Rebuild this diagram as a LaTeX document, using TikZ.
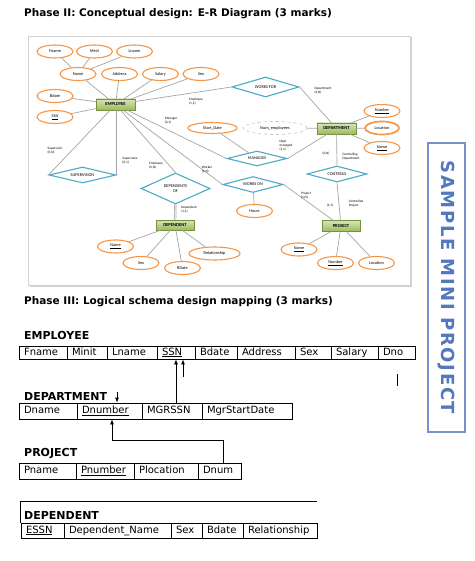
\documentclass[tikz,border=0pt]{standalone}
\usepackage{fontspec}
\setmainfont{DejaVu Sans}
\newfontfamily\erfont{Carlito}
\newfontfamily\sidefont[LetterSpace=9]{DejaVu Sans}
\usetikzlibrary{shapes.geometric,arrows.meta,shadows}

\definecolor{attrorange}{HTML}{F79646}
\definecolor{relteal}{HTML}{4BACC6}
\definecolor{entgreen}{HTML}{9BBB59}
\definecolor{entpale}{HTML}{D7E4BD}
\definecolor{entdark}{HTML}{76923C}
\definecolor{conngray}{HTML}{A5A5A5}
\definecolor{sideblue}{HTML}{5378BC}

\tikzset{
  attr/.style={ellipse, draw=attrorange, line width=1.1pt, fill=white, inner sep=0pt,
    minimum width=36, minimum height=13, font=\erfont\fontsize{4.3}{5}\selectfont},
  rel/.style={diamond, aspect=3, draw=relteal, line width=1.1pt, fill=white, inner sep=0pt,
    align=center, font=\erfont\fontsize{4.3}{5}\selectfont},
  ent/.style={rectangle, draw=entdark, line width=0.5pt, top color=entpale, bottom color=entgreen,
    inner sep=0pt, minimum width=39, minimum height=11, font=\erfont\bfseries\fontsize{4.6}{5}\selectfont},
  conn/.style={draw=conngray, line width=0.7pt},
  lbl/.style={inner sep=0pt, align=left, font=\erfont\fontsize{3.4}{4}\selectfont},
  heading/.style={anchor=west, inner sep=0pt, font=\bfseries\fontsize{10.5}{12}\selectfont},
  relname/.style={anchor=west, inner sep=0pt, font=\bfseries\fontsize{11}{13}\selectfont},
  cell/.style={draw, line width=0.8pt, inner xsep=5pt, inner ysep=0pt, align=left,
    text height=7.5pt, text depth=2.3pt, font=\fontsize{10}{12}\selectfont},
  fk/.style={-{Latex[length=5pt,width=4pt]}, line width=0.8pt}
}

\begin{document}
\begin{tikzpicture}[x=1pt, y=-1pt]
  \useasboundingbox (0,0) rectangle (474,561);

  \node[heading] (phasetwo) at (24,14) {Phase II: Conceptual design: E-R Diagram (3 marks)};

  %%%%%%%%%%%%%%%%%%%%%%%%%%%%%%%%%%%%%%%%%%%%%%%%%%%%%%%%%%%%%%%%%%%%%%%%%%%
  %%%%  E-R frame
  \node[draw=gray!35, fill=white, minimum width=382, minimum height=249, inner sep=0pt,
    drop shadow={shadow xshift=1.5pt, shadow yshift=-1.5pt, opacity=0.35}] (erframe) at (219,160.5) {};

  %%%%  entities
  \node[ent] (emp) at (115.5,104.5) {EMPLOYEE};
  \node[ent] (dept) at (336.5,128.5) {DEPARTMENT};
  \node[ent, minimum width=38] (proj) at (341,226) {PROJECT};
  \node[ent, minimum width=38, minimum height=10] (dep) at (175,225) {DEPENDENT};

  %%%%  relationships
  \node[rel, minimum width=67, minimum height=20] (worksfor) at (265.5,87) {WORKS FOR};
  \node[rel, minimum width=60, minimum height=15] (manages) at (257,158.5) {MANAGES};
  \node[rel, minimum width=60, minimum height=16] (controls) at (337,174) {CONTROLS};
  \node[rel, minimum width=60, minimum height=16] (workson) at (253,184.5) {WORKS ON};
  \node[rel, minimum width=67, minimum height=16] (supervision) at (82.5,175) {SUPERVISION};
  \node[rel, minimum width=69, minimum height=31] (depof) at (175.5,188.5) {DEPENDENTS\\OF};

  %%%%  attributes
  \foreach \nm/\txt/\px/\py in {fname/Fname/55/51.5, minit/Minit/94.5/51.5, lname/Lname/134.5/51.5,
      ename/Name/78/74, addr/Address/119.5/74, salary/Salary/160.5/74, sex/Sex/201/74,
      bdate/Bdate/55/96, ssn/{\underline{SSN}}/55/117}
    {\node[attr] (\nm) at (\px,\py) {\txt};}
  \foreach \nm/\txt/\px/\py in {dnumber/{\underline{Number}}/382/111, dname/{\underline{Name}}/382/148,
      pname/{\underline{Name}}/299/249.5, pnumber/{\underline{Number}}/335.5/263, ploc/Location/376.5/263,
      depname/{\underline{Name}}/115.5/246.5, depsex/Sex/141/263, depbdate/BDate/182.5/268,
      hours/Hours/254.5/211}
    {\node[attr] (\nm) at (\px,\py) {\txt};}
  \node[attr, minimum width=34, line width=1.7pt] (dloc) at (382,128) {Location};
  \node[attr, minimum width=51] (relship) at (214.5,253.5) {Relationship};
  \node[attr, minimum width=49, minimum height=11] (startdate) at (212.5,128) {Start\_Date};
  \node[attr, minimum width=64, draw=gray!45, dashed, line width=0.6pt] (numemp) at (275,128) {Num\_employees};

  %%%%  connectors
  \foreach \a in {fname,minit,lname} {\draw[conn] (\a) -- (ename);}
  \foreach \a in {ename,addr,salary,sex,bdate,ssn} {\draw[conn] (\a) -- (emp);}
  \draw[conn] (emp) -- (worksfor.west);
  \draw[conn] (worksfor.east) -- (dept);
  \draw[conn] (emp) -- (manages.west);
  \draw[conn] (manages.east) -- (dept);
  \draw[conn] (startdate) -- (manages);
  \draw[conn] (numemp) -- (dept);
  \draw[conn] (emp) -- (workson.west);
  \draw[conn] (workson.east) -- (proj);
  \draw[conn] (workson) -- (hours);
  \draw[conn] (emp) -- (supervision.west);
  \draw[conn] (supervision.east) -- (supervision.east |- emp.south);
  \draw[conn] (emp) -- (depof.north);
  \draw[conn, double=white, double distance=0.9pt] (depof) -- (dep);
  \draw[conn] (dept) -- (controls.north);
  \draw[conn] (controls.south) -- (proj);
  \foreach \a in {dnumber,dloc,dname} {\draw[conn] (dept) -- (\a);}
  \foreach \a in {pname,pnumber,ploc} {\draw[conn] (proj) -- (\a);}
  \foreach \a in {depname,depsex,depbdate,relship} {\draw[conn] (dep) -- (\a);}

  %%%%  cardinalities
  \node[lbl] (lempwf) at (196,102) {Employee\\(1,1)};
  \node[lbl] (ldeptwf) at (323,91) {Department\\(4,N)};
  \node[lbl] (lmgr) at (171,121) {Manager\\(0,1)};
  \node[lbl] (ldeptmg) at (286,146) {Dept\\managed\\(1,1)};
  \node[lbl] (lsupr) at (55,151) {Supervisor\\(0,N)};
  \node[lbl] (lsupe) at (130,161) {Supervisee\\(0,1)};
  \node[lbl] (lempdep) at (156,166) {Employee\\(0,N)};
  \node[lbl] (lworker) at (207,170) {Worker\\(1,N)};
  \node[lbl] (ldepdep) at (189,210) {Dependent\\(1,1)};
  \node[lbl] (lctrla) at (326,153) {(0,N)};
  \node[lbl] (lctrlb) at (351,157) {Controlling\\Department};
  \node[lbl] (lctrlc) at (330,205) {(1,1)};
  \node[lbl] (lctrld) at (356,204) {Controlled\\Project};
  \node[lbl] (lprojwo) at (306,196) {Project\\(1,N)};

  %%%%%%%%%%%%%%%%%%%%%%%%%%%%%%%%%%%%%%%%%%%%%%%%%%%%%%%%%%%%%%%%%%%%%%%%%%%
  %%%%  Logical schema
  \node[heading] (phasethree) at (24,302) {Phase III: Logical schema design mapping (3 marks)};

  \node[relname] (emptitle) at (24,335) {EMPLOYEE};
  \foreach \nm/\txt/\a/\b in {efname/Fname/19/67, eminit/Minit/67/107, elname/Lname/107/157,
      essn/{\underline{SSN}}/157/195, ebdate/Bdate/195/237, eaddr/Address/237/295,
      esex/Sex/295/331, esal/Salary/331/378, edno/Dno/378/415}
    {\pgfmathsetmacro\w{\b-\a-10}
     \node[cell, text width=\w pt, minimum height=13] (\nm) at ({(\a+\b)/2},352.5) {\txt};}

  \node[relname] (depttitle) at (24,396) {DEPARTMENT};
  \foreach \nm/\txt/\a/\b in {ddname/Dname/19/77, ddnumber/{\underline{Dnumber}}/77/142,
      dmgrssn/MGRSSN/142/202, dmgrdate/MgrStartDate/202/292}
    {\pgfmathsetmacro\w{\b-\a-10}
     \node[cell, text width=\w pt, minimum height=16] (\nm) at ({(\a+\b)/2},411) {\txt};}

  \node[relname] (projtitle) at (24,454) {PROJECT};
  \foreach \nm/\txt/\a/\b in {ppname/Pname/19/76, ppnumber/{\underline{Pnumber}}/76/134,
      pploc/Plocation/134/198, pdnum/Dnum/198/241}
    {\pgfmathsetmacro\w{\b-\a-10}
     \node[cell, text width=\w pt, minimum height=16] (\nm) at ({(\a+\b)/2},471) {\txt};}

  \node[relname] (deptitle) at (24,515) {DEPENDENT};
  \foreach \nm/\txt/\a/\b in {dessn/{\underline{ESSN}}/21/64, dedname/Dependent\_Name/64/171,
      desex/Sex/171/202, debdate/Bdate/202/243, derel/Relationship/243/317}
    {\pgfmathsetmacro\w{\b-\a-10}
     \node[cell, text width=\w pt, minimum height=15] (\nm) at ({(\a+\b)/2},530.5) {\txt};}
  \coordinate (depframe) at (317,501);
  \draw[line width=0.8pt] (dessn.north west) |- (depframe);

  %%%%  references
  \draw[fk] (essn.south |- dmgrssn.north) -- (essn.south);
  \coordinate (essnstub) at (183,377);
  \draw[fk] (essnstub) -- (essnstub |- essn.south);
  \coordinate (dnostubtop) at (397,374);
  \coordinate (dnostubbot) at (397,386);
  \draw[line width=0.8pt] (dnostubtop) -- (dnostubbot);
  \coordinate (deptin) at (117,392);
  \draw[fk] (deptin) -- (deptin |- ddnumber.north);
  \draw[fk] ([xshift=4pt]pdnum.north) -- ++(0,-22) -| ([xshift=2.5pt]ddnumber.south);

  %%%%  side banner
  \node[draw=sideblue!80, line width=1.6pt, minimum width=37, minimum height=289, inner sep=0pt] (sidebox) at (446.5,287.5) {};
  \node[rotate=-90, text=sideblue, inner sep=0pt, font=\sidefont\bfseries\fontsize{18}{20}\selectfont] (sidetext) at (sidebox.center) {SAMPLE MINI PROJECT};
\end{tikzpicture}
\end{document}
